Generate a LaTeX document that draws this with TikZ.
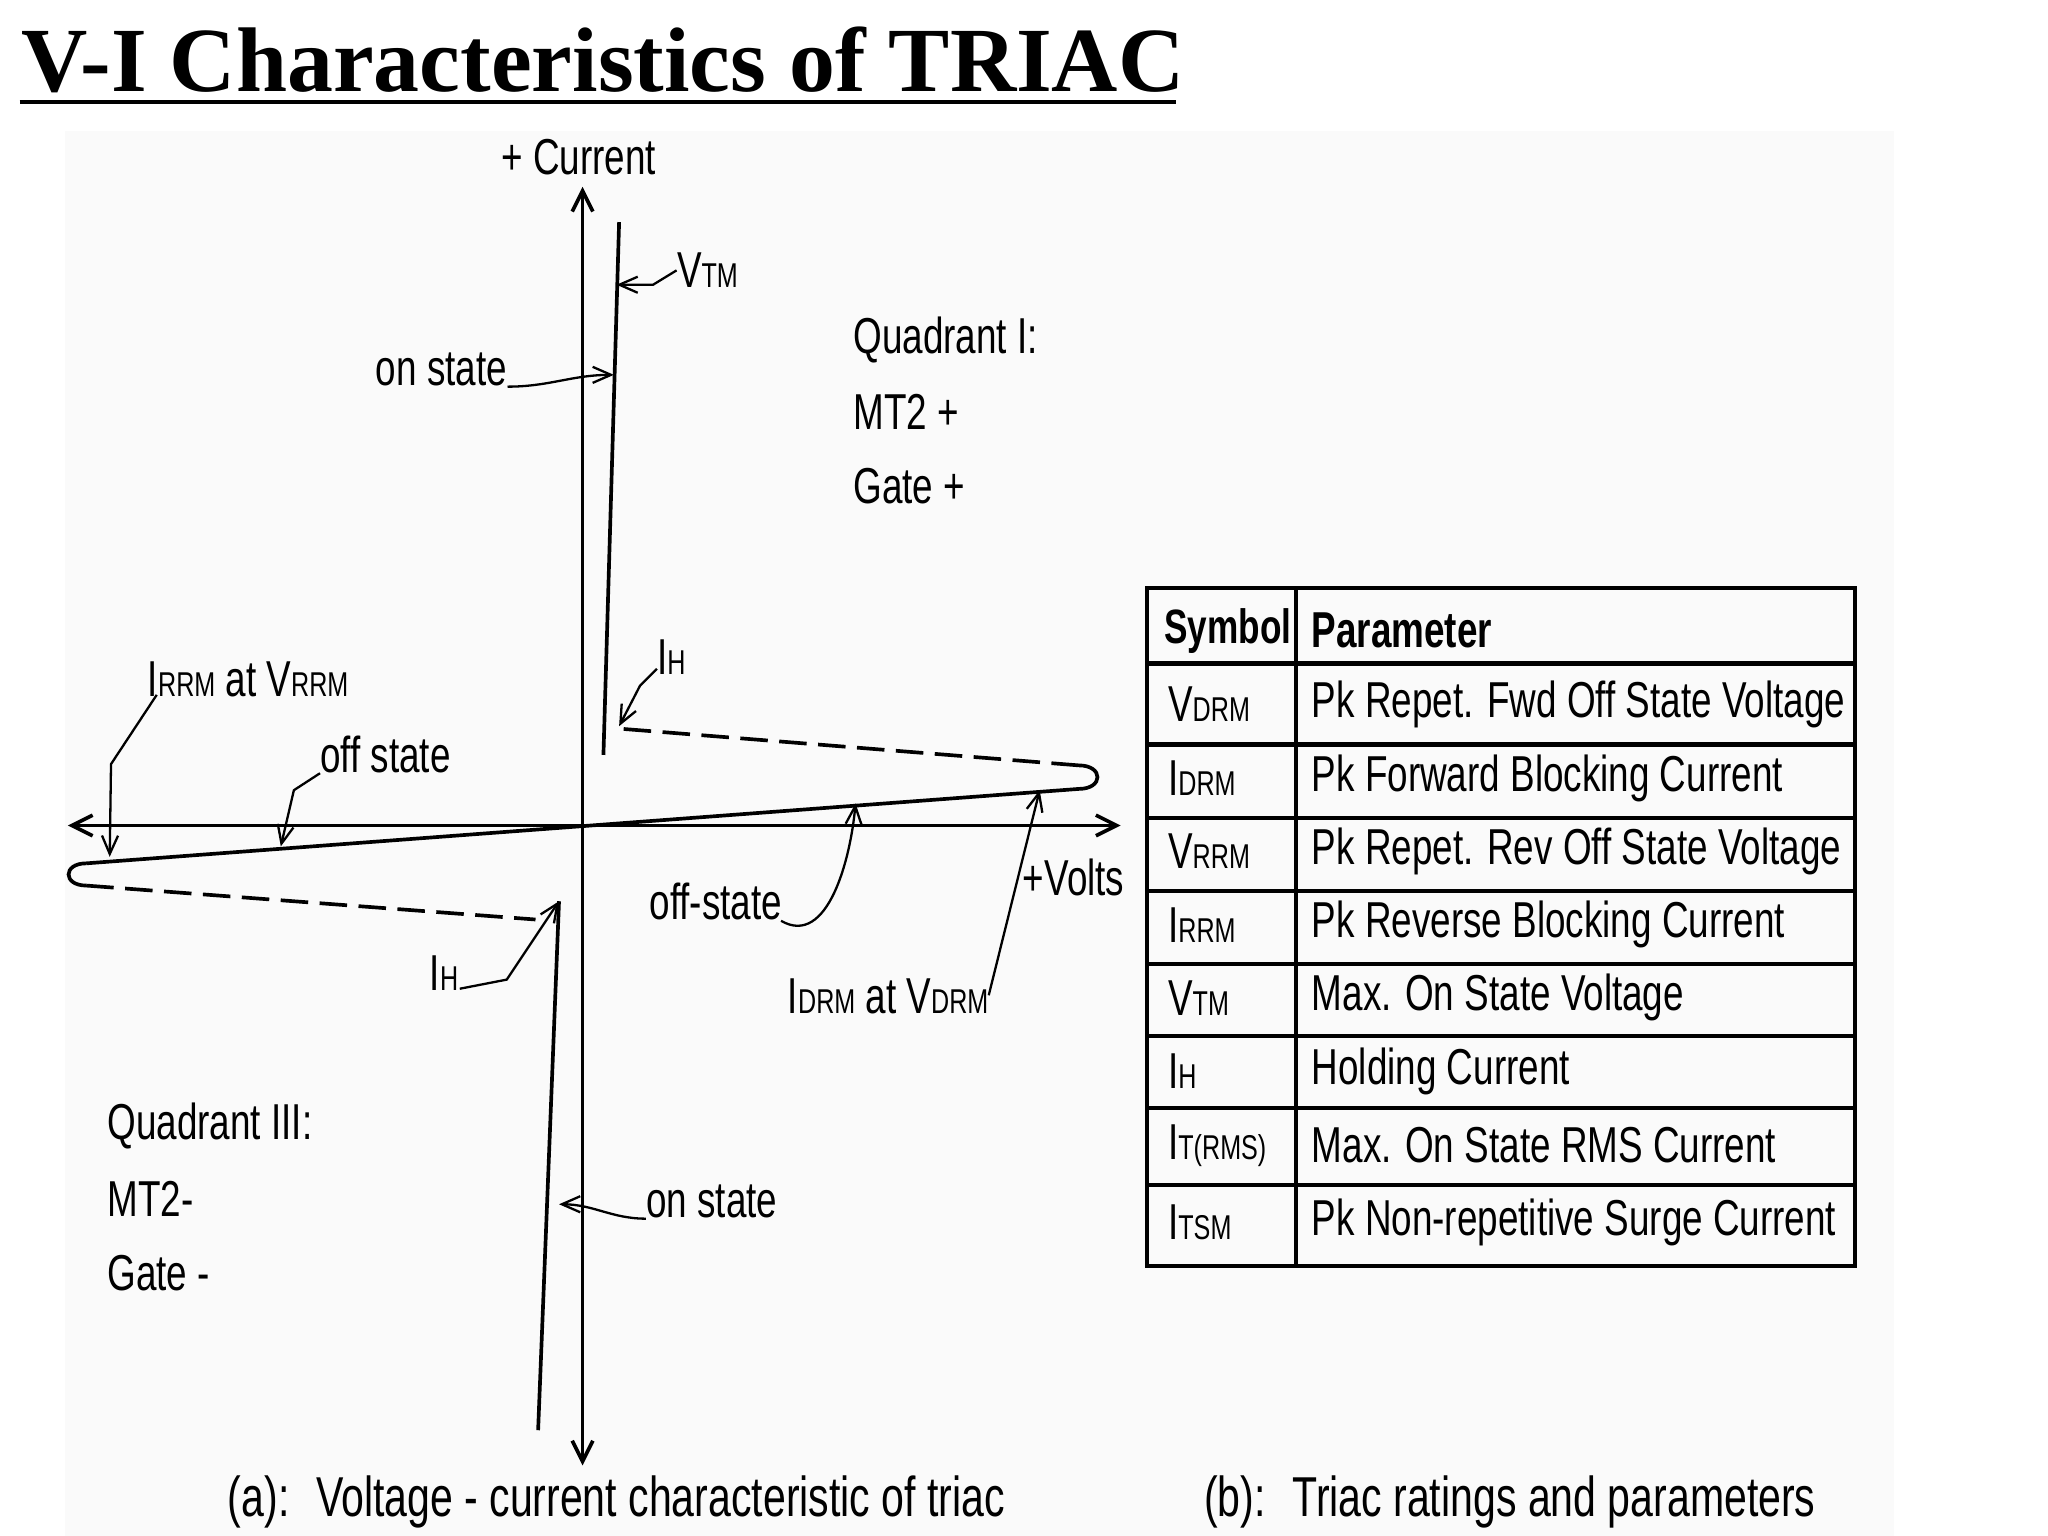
\documentclass[tikz,border=0pt]{standalone}
\usepackage{fontspec}
\setmainfont{Liberation Sans}[FakeStretch=0.73]
\newfontfamily\titlefont{Liberation Serif}
\usetikzlibrary{arrows.meta}
\newcommand{\mysub}[2]{#1{\fontsize{15}{15}\selectfont #2}}
\begin{document}
\begin{tikzpicture}[x=0.02cm,y=-0.02cm,
  lbl/.style={font=\fontsize{22}{24}\selectfont,inner sep=0pt},
  ax/.style={line width=1.6pt,-{Straight Barb[length=9pt,width=9pt]}},
  pt/.style={line width=1pt,-{Straight Barb[length=8pt,width=7pt]}},
  crv/.style={line width=1.6pt},
  dsh/.style={line width=1.6pt,dash pattern=on 12pt off 5pt},
  tl/.style={font=\fontsize{22}{24}\selectfont,anchor=west,inner sep=0pt}]
\useasboundingbox (0,0) rectangle (1568,1176);
\fill[white] (0,0) rectangle (1568,1176);
\fill[black!2] (50,100) rectangle (1450,1176);
% title
\node[anchor=base west,inner sep=0pt,font=\titlefont\bfseries\fontsize{40}{40}\selectfont] (title) at (16,70) {V-I Characteristics of TRIAC};
\draw[line width=2pt] (15,78) -- (900,78);
% axes
\coordinate (o) at (446,632);
\coordinate (yt) at (446,143); \coordinate (yb) at (446,1122);
\coordinate (xl) at (52,632); \coordinate (xr) at (858,632);
\draw[ax] (o) -- (yt); \draw[ax] (o) -- (yb);
\draw[ax] (o) -- (xl); \draw[ax] (o) -- (xr);
\node[lbl] (cur) at (443,120) {+ Current};
\node[lbl] (volts) at (822,672) {+Volts};
% curves
\coordinate (q1a) at (474,170); \coordinate (q1b) at (462,578);
\draw[crv] (q1a) -- (q1b);
\coordinate (q3a) at (428,690); \coordinate (q3b) at (412,1095);
\draw[crv] (q3a) -- (q3b);
\draw[crv] (66,661) -- (826,604) .. controls (845,604) and (845,586) .. (826,586);
\draw[dsh] (826,586) -- (476,558);
\draw[crv] (66,661) .. controls (48,661) and (48,678) .. (66,678);
\draw[dsh] (66,678) -- (410,704);
% labels Q1
\node[lbl,anchor=west] (vtm) at (518,207) {\mysub{V}{TM}};
\draw[pt] (vtm.west) -- (500,218) -- (472,218);
\node[lbl] (on1) at (338,283) {on state};
\draw[pt] (on1.south east) to[out=0,in=180] (470,287);
\node[lbl,anchor=west] (q1t) at (653,260) {Quadrant I:};
\node[lbl,anchor=west] (q1m) at (653,315) {MT2 +};
\node[lbl,anchor=west] (q1g) at (653,372) {Gate +};
\node[lbl] (ih1) at (514,503) {\mysub{I}{H}};
\draw[pt] (503,512) -- (490,525) -- (474,556);
\node[lbl] (irrm) at (190,520) {\mysub{I}{RRM} at \mysub{V}{RRM}};
\draw[pt] (120,532) -- (85,585) -- (84,656);
\node[lbl] (off1) at (295,578) {off state};
\draw[pt] (245,592) -- (225,605) -- (215,648);
\node[lbl] (off2) at (548,690) {off-state};
\draw[pt] (598,705) to[out=-30,in=-95] (655,615);
\node[lbl] (idrm) at (680,763) {\mysub{I}{DRM} at \mysub{V}{DRM}};
\draw[pt] (757,762) -- (796,605);
\node[lbl] (ih3) at (340,745) {\mysub{I}{H}};
\draw[pt] (352,757) -- (388,750) -- (428,690);
\node[lbl] (on3) at (545,920) {on state};
\draw[pt] (on3.south west) to[out=180,in=0] (428,922);
\node[lbl,anchor=west] (q3t) at (82,862) {Quadrant III:};
\node[lbl,anchor=west] (q3m) at (82,918) {MT2-};
\node[lbl,anchor=west] (q3g) at (82,975) {Gate -};
\node[lbl,font=\fontsize{24.5}{26}\selectfont] (capa) at (472,1150) {(a):~ Voltage - current characteristic of triac};
\node[lbl,font=\fontsize{24.5}{26}\selectfont] (capb) at (1156,1150) {(b):~ Triac ratings and parameters};
% table
\draw[line width=1.8pt] (878,450) rectangle (1420,969);
\draw[line width=1.8pt] (992,450) -- (992,969);
\foreach \y in {508,570,626,682,738,793,848,907}
  \draw[line width=1.8pt] (878,\y) -- (1420,\y);
\node[tl,font=\bfseries\fontsize{21}{24}\selectfont] (hs) at (891,483) {Symbol};
\node[tl,font=\bfseries\fontsize{22}{24}\selectfont] (hp) at (1004,483) {Parameter};
\foreach \y/\s/\p [count=\i] in {
  539/{\mysub{V}{DRM}}/{Pk Repet. Fwd Off State Voltage},
  596/{\mysub{I}{DRM}}/{Pk Forward Blocking Current},
  652/{\mysub{V}{RRM}}/{Pk Repet. Rev Off State Voltage},
  708/{\mysub{I}{RRM}}/{Pk Reverse Blocking Current},
  764/{\mysub{V}{TM}}/{Max. On State Voltage},
  820/{\mysub{I}{H}}/{Holding Current},
  877/{\mysub{I}{T(RMS)}}/{Max. On State RMS Current},
  936/{\mysub{I}{TSM}}/{Pk Non-repetitive Surge Current}}
{ \node[tl] (s\i) at (894,\y) {\s}; \node[tl] (p\i) at (1004,\y) {\p}; }
\end{tikzpicture}
\end{document}
